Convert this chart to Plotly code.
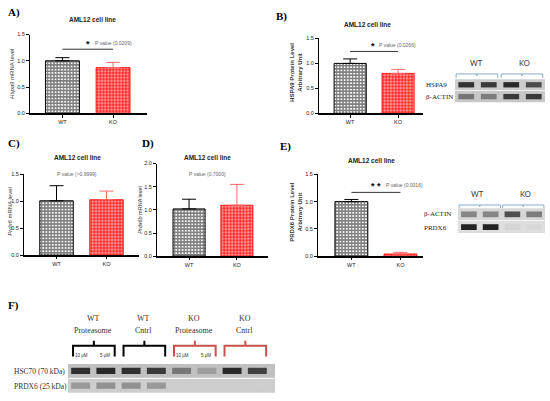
import plotly.graph_objects as go

W, H = 550, 401


def px(x):
    return x / W


def py(y):
    return 1 - y / H


groups = ["WT", "KO"]

# bar heights (mean) and upper error bars
hspa9_mrna = [1.00, 0.87]
hspa9_mrna_sd = [0.06, 0.10]
hspa9_protein = [1.00, 0.80]
hspa9_protein_sd = [0.09, 0.08]
prdx6_mrna = [1.01, 1.03]
prdx6_mrna_sd = [0.28, 0.16]
prdx6b_mrna = [1.02, 1.10]
prdx6b_mrna_sd = [0.21, 0.45]
prdx6_protein = [1.00, 0.04]
prdx6_protein_sd = [0.04, 0.03]

# significance bar level (None = no bar), stars and p values
sig_levels = [1.22, 1.24, None, None, 1.17]
sig_stars = ["*", "*", "", "", "* *"]
p_values = ["P value (0.0209)", "P value (0.0266)", "P value (>0.9999)",
            "P value (0.7000)", "P value (0.0016)"]

# western blots: band intensities per lane (0 = nothing, 1 = saturated)
b_rows = ["HSPA9", "β-ACTIN"]
b_hspa9 = [0.9, 0.85, 0.95, 0.75]
b_actin = [0.5, 0.45, 0.85, 0.85]
e_rows = ["β-ACTIN", "PRDX6"]
e_actin = [0.45, 0.45, 0.75, 0.5]
e_prdx6 = [1.0, 1.0, 0.05, 0.03]
f_rows = ["HSC70 (70 kDa)", "PRDX6 (25 kDa)"]
f_groups = ["WT", "WT", "KO", "KO"]
f_treat = ["Proteasome", "Cntrl", "Proteasome", "Cntrl"]
f_doses = ["10 μM", "5 μM"]
f_hsc70 = [0.9, 0.95, 0.9, 0.85, 0.45, 0.2, 0.95, 0.8]
f_prdx6 = [0.3, 0.35, 0.35, 0.3, 0.0, 0.0, 0.0, 0.0]

SANS = "Liberation Sans"
SERIF = "Liberation Serif"
RED = "#ff1f1f"

panels = [
    dict(letter="A)", letter_xy=(6, 10), means=hspa9_mrna, sd=hspa9_mrna_sd,
         ytitle="<i>Hspa9</i> mRNA level", ytitle_xy=(12, 72),
         xdom=(30, 147), ydom=(112, 32), xr=(-0.64, 1.67), ymax=1.5,
         title_xy=(92, 17), star_x=88, p_xy=(93, 41), p_anchor="left"),
    dict(letter="B)", letter_xy=(274, 14), means=hspa9_protein, sd=hspa9_protein_sd,
         ytitle="<b>HSPA9 Protein Level<br>Arbitrary Unit</b>", ytitle_xy=(296, 71),
         xdom=(319, 423), ydom=(112, 36), xr=(-0.65, 1.52), ymax=1.5,
         title_xy=(367, 22), star_x=373, p_xy=(377, 43), p_anchor="left"),
    dict(letter="C)", letter_xy=(6, 143), means=prdx6_mrna, sd=prdx6_mrna_sd,
         ytitle="<i>Prdx6</i> mRNA level", ytitle_xy=(10, 212),
         xdom=(24, 139), ydom=(256, 174), xr=(-0.65, 1.65), ymax=1.5,
         title_xy=(77, 157), star_x=None, p_xy=(77, 174), p_anchor="center"),
    dict(letter="D)", letter_xy=(140, 143), means=prdx6b_mrna, sd=prdx6b_mrna_sd,
         ytitle="<i>Prdx6b</i> mRNA level", ytitle_xy=(140, 210),
         xdom=(157, 268), ydom=(257, 163), xr=(-0.67, 1.65), ymax=2.0,
         title_xy=(207, 157), star_x=None, p_xy=(207, 174), p_anchor="center"),
    dict(letter="E)", letter_xy=(278, 146), means=prdx6_protein, sd=prdx6_protein_sd,
         ytitle="<b>PRDX6 Protein Level<br>Arbitrary Unit</b>", ytitle_xy=(296, 212),
         xdom=(318, 423), ydom=(257, 174), xr=(-0.68, 1.46), ymax=1.5,
         title_xy=(371, 160), star_x=376, p_xy=(384, 185), p_anchor="left"),
]

fig = go.Figure()
annotations = []
shapes = []
layout_axes = {}


def note(x, y, text, size, family=SANS, color="#333333", xanchor="center", angle=0):
    annotations.append(dict(x=px(x), y=py(y), xref="paper", yref="paper", text=text,
                            xanchor=xanchor, yanchor="middle", textangle=angle, showarrow=False,
                            font=dict(family=family, size=size, color=color)))


def ax_names(i):
    return ("x" if i == 1 else f"x{i}", "y" if i == 1 else f"y{i}")


# ---- bar chart panels ----
for i, p in enumerate(panels, start=1):
    xa, ya = ax_names(i)
    for j, g in enumerate(groups):
        wt = j == 0
        fig.add_trace(go.Bar(
            x=[j], y=[p["means"][j]], width=0.67, xaxis=xa, yaxis=ya,
            marker=dict(
                color="white" if wt else RED,
                line=dict(color="black" if wt else RED, width=1),
                pattern=dict(shape="+" if wt else ".",
                             fgcolor="black" if wt else "white",
                             bgcolor="white" if wt else RED,
                             size=3.2, solidity=0.7 if wt else 0.55),
            ),
            error_y=dict(type="data", array=[p["sd"][j]], arrayminus=[0],
                         symmetric=False, color="black" if wt else "#ff6b6b",
                         thickness=1, width=7),
            hoverinfo="skip",
        ))
    sig = sig_levels[i - 1]
    if sig is not None:
        fig.add_trace(go.Scatter(x=[0, 1], y=[sig, sig], mode="lines", xaxis=xa, yaxis=ya,
                                 line=dict(color="#333333", width=1), hoverinfo="skip"))

    layout_axes["xaxis" if i == 1 else f"xaxis{i}"] = dict(
        domain=[px(p["xdom"][0]), px(p["xdom"][1])], anchor=ya,
        range=list(p["xr"]), tickvals=[0, 1], ticktext=groups,
        ticks="outside", ticklen=2.5, tickwidth=1, tickcolor="black",
        showline=True, linecolor="black", linewidth=1.5,
        showgrid=False, zeroline=False,
        tickfont=dict(family=SANS, size=5.5, color="#222222"),
    )
    layout_axes["yaxis" if i == 1 else f"yaxis{i}"] = dict(
        domain=[py(p["ydom"][0]), py(p["ydom"][1])], anchor=xa,
        range=[0, p["ymax"]], dtick=0.5, tickformat=".1f",
        ticks="outside", ticklen=3, tickwidth=1, tickcolor="black",
        showline=True, linecolor="black", linewidth=1,
        showgrid=False, zeroline=False,
        tickfont=dict(family=SANS, size=5.5, color="#222222"),
    )

    note(p["letter_xy"][0], p["letter_xy"][1], f"<b>{p['letter']}</b>", 11, SERIF, "black", "left")
    note(p["title_xy"][0], p["title_xy"][1], "<b>AML12 cell line</b>", 6.5, SANS, "#222222")
    note(p["ytitle_xy"][0], p["ytitle_xy"][1], p["ytitle"], 6 if i != 4 else 5.5, SANS, "#333333", angle=-90)
    if p["star_x"] is not None:
        note(p["star_x"], p["p_xy"][1] + 1, f"<b>{sig_stars[i - 1]}</b>", 9, SANS, "black")
    note(p["p_xy"][0], p["p_xy"][1], p_values[i - 1], 5, SANS, "#666666", p["p_anchor"])


# ---- western blots ----
def band_color(level, bg):
    v = int(bg - level * (bg - 25))
    return f"rgb({v},{v},{v})"


def add_blot(idx, xdom, ydom, xr, yr, rows, backgrounds, band_h, band_w):
    xa, ya = f"x{idx}", f"y{idx}"
    layout_axes[f"xaxis{idx}"] = dict(domain=[px(xdom[0]), px(xdom[1])], anchor=ya,
                                      range=list(xr), visible=False)
    layout_axes[f"yaxis{idx}"] = dict(domain=[py(ydom[0]), py(ydom[1])], anchor=xa,
                                      range=list(yr), visible=False)
    n_rows = len(rows)
    for r, (levels, bg) in enumerate(zip(rows, backgrounds)):
        yc = n_rows - 1 - r
        shapes.append(dict(type="rect", xref=xa, yref=ya, x0=xr[0], x1=xr[1],
                           y0=yc - 0.47, y1=yc + 0.47, fillcolor=f"rgb({bg},{bg},{bg})",
                           line=dict(width=0), layer="below"))
        lanes = list(range(1, len(levels) + 1))
        fig.add_trace(go.Bar(x=lanes, y=[band_h] * len(lanes), base=[yc - band_h / 2] * len(lanes),
                             width=band_w, xaxis=xa, yaxis=ya,
                             marker=dict(color=[band_color(v, bg) for v in levels], line=dict(width=0)),
                             opacity=0.95, hoverinfo="skip"))
    return xa, ya


def add_bracket(xa, ya, x0, x1, ytop, yend, ymid, color, width):
    xc = (x0 + x1) / 2
    fig.add_trace(go.Scatter(x=[x0, x0, xc, xc, xc, x1, x1],
                             y=[yend, ytop, ytop, ymid, ytop, ytop, yend],
                             mode="lines", xaxis=xa, yaxis=ya, hoverinfo="skip",
                             line=dict(color=color, width=width)))


BLUE = "#86abcd"

# B blot
xa, ya = add_blot(6, (455, 545), (102, 66), (0.5, 4.5), (-0.58, 2.42),
                  [b_hspa9, b_actin], [205, 200], 0.45, 0.7)
for k in range(2):
    add_bracket(xa, ya, 1 + 2 * k - 0.45, 2 + 2 * k + 0.4, 1.92, 1.58, 1.75, BLUE, 1)
for k, g in enumerate(groups):
    note(476 + 48 * k, 61, g, 7.5, "Lato", "#333333")
for r, lab in enumerate(b_rows):
    note(424, 83 + 12 * r, lab, 7, SERIF, "#222222", "left")

# E blot
xa, ya = add_blot(7, (458, 545), (234, 200), (0.5, 4.5), (-0.5, 2.12),
                  [e_actin, e_prdx6], [215, 222], 0.45, 0.72)
for k in range(2):
    add_bracket(xa, ya, 1 + 2 * k - 0.45, 2 + 2 * k + 0.45, 1.73, 1.5, 1.6, BLUE, 1)
for k, g in enumerate(groups):
    note(477 + 48 * k, 194, g, 7.5, "Lato", "#333333")
for r, lab in enumerate(e_rows):
    note(422, 214 + 14 * r, lab, 7, SERIF, "#222222", "left")

# F blot
lane_px = 207 / 8.2
xa, ya = add_blot(8, (68, 275), (396, 340), (0.5, 8.7), (-0.5, 3.23),
                  [f_hsc70, f_prdx6], [192, 205], 0.42, 0.75)
for k in range(4):
    col = "black" if f_groups[k] == "WT" else "#c8504b"
    add_bracket(xa, ya, 1 + 2 * k - 0.3, 2 + 2 * k + 0.35, 2.7, 1.97, 3.03, col, 2)
    cx = 68 + (1.5 + 2 * k - 0.5) * lane_px
    note(cx, 320, f_groups[k], 8, SERIF, "#333333")
    note(cx, 332, f_treat[k], 8, SERIF, "#333333")
for k in (0, 2):
    for d, dose in enumerate(f_doses):
        lane = 1 + 2 * k + d
        cx = 68 + (lane - 0.5) * lane_px + (1 if d == 0 else -1)
        note(cx, 358, dose, 4.5, SANS, "#333333")
for r, lab in enumerate(f_rows):
    note(12, 374 + 15 * r, lab, 7.5, SERIF, "#333333", "left")
note(6, 307, "<b>F)</b>", 11, SERIF, "black", "left")

fig.update_layout(
    width=W, height=H, margin=dict(l=0, r=0, t=0, b=0),
    paper_bgcolor="white", plot_bgcolor="white",
    showlegend=False, barmode="overlay",
    annotations=annotations, shapes=shapes,
    **layout_axes,
)

fig.write_html("out.html", config={"displayModeBar": False},
               post_script="document.body.style.margin = '0';")
